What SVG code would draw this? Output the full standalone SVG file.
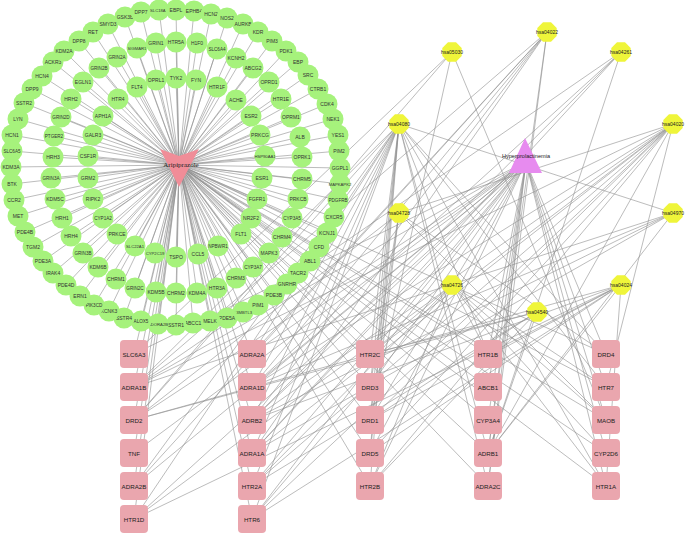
<svg xmlns="http://www.w3.org/2000/svg" xmlns:xlink="http://www.w3.org/1999/xlink" width="685" height="535" viewBox="0 0 685 535">
<style>
.e{stroke:#8f8f8f;stroke-width:0.6;fill:none}
.g circle{fill:#a6f27c}
.g text{font-family:"Liberation Sans",Arial,sans-serif;font-size:5px;fill:#333;text-anchor:middle;dominant-baseline:central}
.g text.s{font-size:4.2px}
.g text.m{font-size:4.6px}
.p rect{fill:#eaa6ae}
.p text{font-family:"Liberation Sans",Arial,sans-serif;font-size:6.2px;fill:#222;text-anchor:middle;dominant-baseline:central}
.h use{fill:#eff53a}
.h text{font-family:"Liberation Sans",Arial,sans-serif;font-size:5px;fill:#222;text-anchor:middle;dominant-baseline:central}
</style>
<defs>
<polygon id="oct" points="4,-9.7 9.7,-4 9.7,4 4,9.7 -4,9.7 -9.7,4 -9.7,-4 -4,-9.7"/>
</defs>
<rect width="685" height="535" fill="#fff"/>
<g id="connectors">
<path class="e" d="M179 165L125 17M179 165L141 12M179 165L159 10M179 165L176 10M179 165L194 11M179 165L211 14M179 165L227 18M179 165L243 24M179 165L258 32M179 165L272 41M179 165L286 51M179 165L298 62M179 165L308 75M179 165L318 89M179 165L327 104M179 165L333 119M179 165L338 135M179 165L339 151M179 165L340 168M179 165L340 184M179 165L338 200M179 165L334 217M179 165L327 233M179 165L319 247M179 165L310 261M179 165L298 273M179 165L287 284M179 165L274 295M179 165L258 305M179 165L243 312M179 165L227 318M179 165L210 321M179 165L193 323M179 165L176 325M179 165L158 324M179 165L141 321M179 165L124 318M179 165L109 311M179 165L94 305M179 165L80 296M179 165L66 285M179 165L53 273M179 165L43 261M179 165L33 247M179 165L25 232M179 165L18 216M179 165L14 200M179 165L12 184M179 165L11 167M179 165L12 151M179 165L12 135M179 165L18 119M179 165L24 103M179 165L32 89M179 165L42 76M179 165L53 62M179 165L64 51M179 165L79 41M179 165L93 32M179 165L108 24"/>
<path class="e" d="M179 165L137 48M179 165L156 43M179 165L176 42M179 165L197 43M179 165L217 49M179 165L236 58M179 165L253 68M179 165L269 82M179 165L281 99M179 165L291 117M179 165L300 137M179 165L302 157M179 165L302 179M179 165L298 199M179 165L292 218M179 165L282 237M179 165L269 253M179 165L253 267M179 165L236 278M179 165L217 288M179 165L197 293M179 165L176 293M179 165L156 292M179 165L135 288M179 165L116 279M179 165L98 267M179 165L83 253M179 165L71 236M179 165L62 218M179 165L55 199M179 165L51 178M179 165L53 157M179 165L54 136M179 165L61 117M179 165L71 99M179 165L83 82M179 165L99 68M179 165L117 57"/>
<path class="e" d="M179 165L137 87M179 165L156 80M179 165L176 78M179 165L196 80M179 165L217 87M179 165L236 100M179 165L251 116M179 165L260 135M179 165L265 156M179 165L262 178M179 165L257 199M179 165L251 218M179 165L241 234M179 165L218 246M179 165L198 254M179 165L176 257M179 165L155 253M179 165L135 246M179 165L117 234M179 165L103 218M179 165L93 199M179 165L88 178M179 165L88 156M179 165L93 135M179 165L103 116M179 165L118 99"/>
<path class="e" d="M179 165L134 354M179 165L134 387M179 165L134 420M179 165L134 453M179 165L134 486M179 165L134 519M179 165L252 354M179 165L252 387M179 165L252 420M179 165L252 453M179 165L252 486M179 165L252 519M179 165L370 354M179 165L370 387M179 165L370 420M179 165L370 453M179 165L370 486M179 165L488 354M179 165L488 387M179 165L488 420M179 165L488 453M179 165L488 486M179 165L606 354M179 165L606 387M179 165L606 420M179 165L606 453M179 165L606 486"/>
<path class="e" d="M526 162L134 354M526 162L134 387M526 162L134 420M526 162L134 453M526 162L134 486M526 162L134 519M526 162L252 354M526 162L252 387M526 162L252 420M526 162L252 453M526 162L252 486M526 162L252 519M526 162L370 354M526 162L370 387M526 162L370 420M526 162L370 453M526 162L370 486M526 162L488 354M526 162L488 387M526 162L488 420M526 162L488 453M526 162L488 486M526 162L606 354M526 162L606 387M526 162L606 420M526 162L606 453M526 162L606 486"/>
<path class="e" d="M452 52L134 354M452 52L134 420M452 52L370 420M452 52L606 420"/>
<path class="e" d="M547 32L252 453M547 32L134 387M547 32L252 387M547 32L252 354M547 32L134 486M547 32L488 486M547 32L488 453M547 32L252 420"/>
<path class="e" d="M621 52L252 453M621 52L134 387M621 52L252 387M621 52L488 453M621 52L252 420"/>
<path class="e" d="M399 124L134 387M399 124L134 420M399 124L134 486M399 124L134 519M399 124L252 354M399 124L252 387M399 124L252 420M399 124L252 453M399 124L252 486M399 124L252 519M399 124L370 354M399 124L370 387M399 124L370 420M399 124L370 453M399 124L370 486M399 124L488 354M399 124L488 453M399 124L488 486M399 124L606 354M399 124L606 387M399 124L606 486M399 124L673 213"/>
<path class="e" d="M673 124L252 453M673 124L134 387M673 124L252 387M673 124L488 453M673 124L252 420M673 124L252 486M673 124L370 486M673 124L370 354M673 124L370 420M673 124L370 453M673 124L252 519M673 124L606 387M673 124L399 213"/>
<path class="e" d="M399 213L370 420M399 213L134 420M399 213L370 387M399 213L606 354M399 213L370 453M399 213L606 420"/>
<path class="e" d="M673 213L252 453M673 213L134 387M673 213L252 387M673 213L488 453M673 213L252 420"/>
<path class="e" d="M452 285L606 486M452 285L488 354M452 285L134 519M452 285L252 486M452 285L370 486M452 285L370 354M452 285L252 519M452 285L606 387M452 285L606 420M452 285L606 453"/>
<path class="e" d="M621 285L488 453M621 285L252 420M621 285L370 420M621 285L134 420M621 285L370 453M621 285L606 486M621 285L488 354M621 285L134 519M621 285L252 519"/>
<path class="e" d="M537 312L370 420M537 312L134 420M537 312L252 486M537 312L370 486M537 312L370 354M537 312L488 453"/>
</g>
<g id="drug">
<polygon points="160,149 179,156 199,149 179,187" fill="#f08d98"/>
<text x="181" y="165" font-family="'Liberation Serif','Times New Roman',serif" font-size="7" fill="#222" text-anchor="middle" dominant-baseline="central">Aripiprazole</text>
</g>
<g id="disease">
<polygon points="525,138 542,173 509,173" fill="#e78bef"/>
<text x="526" y="156" font-family="'Liberation Sans',Arial,sans-serif" font-size="5.6" fill="#222" text-anchor="middle" dominant-baseline="central">Hyperprolactinemia</text>
</g>
<g id="pathways" class="h">
<g id="hsa05030"><use href="#oct" x="452" y="52"/><text x="452" y="52">hsa05030</text></g>
<g id="hsa04022"><use href="#oct" x="547" y="32"/><text x="547" y="32">hsa04022</text></g>
<g id="hsa04261"><use href="#oct" x="621" y="52"/><text x="621" y="52">hsa04261</text></g>
<g id="hsa04080"><use href="#oct" x="399" y="124"/><text x="399" y="124">hsa04080</text></g>
<g id="hsa04020"><use href="#oct" x="673" y="124"/><text x="673" y="124">hsa04020</text></g>
<g id="hsa04728"><use href="#oct" x="399" y="213"/><text x="399" y="213">hsa04728</text></g>
<g id="hsa04970"><use href="#oct" x="673" y="213"/><text x="673" y="213">hsa04970</text></g>
<g id="hsa04726"><use href="#oct" x="452" y="285"/><text x="452" y="285">hsa04726</text></g>
<g id="hsa04024"><use href="#oct" x="621" y="285"/><text x="621" y="285">hsa04024</text></g>
<g id="hsa04540"><use href="#oct" x="537" y="312"/><text x="537" y="312">hsa04540</text></g>
</g>
<g id="targets" class="g">
<g id="GSK3B"><circle cx="125" cy="17" r="10.5"/><text x="125" y="17">GSK3B</text></g>
<g id="DPP7"><circle cx="141" cy="12" r="10.5"/><text x="141" y="12">DPP7</text></g>
<g id="SLC18A2"><circle cx="159" cy="10" r="10.5"/><text class="s" x="159" y="10">SLC18A2</text></g>
<g id="EBPL"><circle cx="176" cy="10" r="10.5"/><text x="176" y="10">EBPL</text></g>
<g id="EPHB4"><circle cx="194" cy="11" r="10.5"/><text x="194" y="11">EPHB4</text></g>
<g id="HCN2"><circle cx="211" cy="14" r="10.5"/><text x="211" y="14">HCN2</text></g>
<g id="NOS2"><circle cx="227" cy="18" r="10.5"/><text x="227" y="18">NOS2</text></g>
<g id="AURKB"><circle cx="243" cy="24" r="10.5"/><text x="243" y="24">AURKB</text></g>
<g id="KDR"><circle cx="258" cy="32" r="10.5"/><text x="258" y="32">KDR</text></g>
<g id="PIM3"><circle cx="272" cy="41" r="10.5"/><text x="272" y="41">PIM3</text></g>
<g id="PDK1"><circle cx="286" cy="51" r="10.5"/><text x="286" y="51">PDK1</text></g>
<g id="EBP"><circle cx="298" cy="62" r="10.5"/><text x="298" y="62">EBP</text></g>
<g id="SRC"><circle cx="308" cy="75" r="10.5"/><text x="308" y="75">SRC</text></g>
<g id="CTRB1"><circle cx="318" cy="89" r="10.5"/><text x="318" y="89">CTRB1</text></g>
<g id="CDK4"><circle cx="327" cy="104" r="10.5"/><text x="327" y="104">CDK4</text></g>
<g id="NEK1"><circle cx="333" cy="119" r="10.5"/><text x="333" y="119">NEK1</text></g>
<g id="YES1"><circle cx="338" cy="135" r="10.5"/><text x="338" y="135">YES1</text></g>
<g id="PIM2"><circle cx="339" cy="151" r="10.5"/><text x="339" y="151">PIM2</text></g>
<g id="GGPL1"><circle cx="340" cy="168" r="10.5"/><text x="340" y="168">GGPL1</text></g>
<g id="MAPKAPK2"><circle cx="340" cy="184" r="10.5"/><text class="s" x="340" y="184">MAPKAPK2</text></g>
<g id="PDGFRB"><circle cx="338" cy="200" r="10.5"/><text class="m" x="338" y="200">PDGFRB</text></g>
<g id="CXCR5"><circle cx="334" cy="217" r="10.5"/><text x="334" y="217">CXCR5</text></g>
<g id="KCNJ1"><circle cx="327" cy="233" r="10.5"/><text x="327" y="233">KCNJ1</text></g>
<g id="CFD"><circle cx="319" cy="247" r="10.5"/><text x="319" y="247">CFD</text></g>
<g id="ABL1"><circle cx="310" cy="261" r="10.5"/><text x="310" y="261">ABL1</text></g>
<g id="TACR2"><circle cx="298" cy="273" r="10.5"/><text x="298" y="273">TACR2</text></g>
<g id="GNRHR"><circle cx="287" cy="284" r="10.5"/><text x="287" y="284">GNRHR</text></g>
<g id="PDE3B"><circle cx="274" cy="295" r="10.5"/><text x="274" y="295">PDE3B</text></g>
<g id="PIM1"><circle cx="258" cy="305" r="10.5"/><text x="258" y="305">PIM1</text></g>
<g id="L3MBTL3"><circle cx="243" cy="312" r="10.5"/><text class="s" x="243" y="312">L3MBTL3</text></g>
<g id="PDE5A"><circle cx="227" cy="318" r="10.5"/><text x="227" y="318">PDE5A</text></g>
<g id="MELK"><circle cx="210" cy="321" r="10.5"/><text x="210" y="321">MELK</text></g>
<g id="ABCC1"><circle cx="193" cy="323" r="10.5"/><text x="193" y="323">ABCC1</text></g>
<g id="SSTR1"><circle cx="176" cy="325" r="10.5"/><text x="176" y="325">SSTR1</text></g>
<g id="ADORA2B"><circle cx="158" cy="324" r="10.5"/><text class="s" x="158" y="324">ADORA2B</text></g>
<g id="ALOX5"><circle cx="141" cy="321" r="10.5"/><text class="m" x="141" y="321">ALOX5</text></g>
<g id="SSTR4"><circle cx="124" cy="318" r="10.5"/><text x="124" y="318">SSTR4</text></g>
<g id="KCNK3"><circle cx="109" cy="311" r="10.5"/><text x="109" y="311">KCNK3</text></g>
<g id="PIK3CD"><circle cx="94" cy="305" r="10.5"/><text class="m" x="94" y="305">PIK3CD</text></g>
<g id="ERN1"><circle cx="80" cy="296" r="10.5"/><text x="80" y="296">ERN1</text></g>
<g id="PDE4D"><circle cx="66" cy="285" r="10.5"/><text x="66" y="285">PDE4D</text></g>
<g id="IRAK4"><circle cx="53" cy="273" r="10.5"/><text x="53" y="273">IRAK4</text></g>
<g id="PDE3A"><circle cx="43" cy="261" r="10.5"/><text x="43" y="261">PDE3A</text></g>
<g id="TGM2"><circle cx="33" cy="247" r="10.5"/><text x="33" y="247">TGM2</text></g>
<g id="PDE4B"><circle cx="25" cy="232" r="10.5"/><text x="25" y="232">PDE4B</text></g>
<g id="MET"><circle cx="18" cy="216" r="10.5"/><text x="18" y="216">MET</text></g>
<g id="CCR2"><circle cx="14" cy="200" r="10.5"/><text x="14" y="200">CCR2</text></g>
<g id="BTK"><circle cx="12" cy="184" r="10.5"/><text x="12" y="184">BTK</text></g>
<g id="KDM3A"><circle cx="11" cy="167" r="10.5"/><text x="11" y="167">KDM3A</text></g>
<g id="SLC6A5"><circle cx="12" cy="151" r="10.5"/><text class="m" x="12" y="151">SLC6A5</text></g>
<g id="HCN1"><circle cx="12" cy="135" r="10.5"/><text x="12" y="135">HCN1</text></g>
<g id="LYN"><circle cx="18" cy="119" r="10.5"/><text x="18" y="119">LYN</text></g>
<g id="SSTR2"><circle cx="24" cy="103" r="10.5"/><text x="24" y="103">SSTR2</text></g>
<g id="DPP9"><circle cx="32" cy="89" r="10.5"/><text x="32" y="89">DPP9</text></g>
<g id="HCN4"><circle cx="42" cy="76" r="10.5"/><text x="42" y="76">HCN4</text></g>
<g id="ACKR3"><circle cx="53" cy="62" r="10.5"/><text x="53" y="62">ACKR3</text></g>
<g id="KDM2A"><circle cx="64" cy="51" r="10.5"/><text x="64" y="51">KDM2A</text></g>
<g id="DPP8"><circle cx="79" cy="41" r="10.5"/><text x="79" y="41">DPP8</text></g>
<g id="RET"><circle cx="93" cy="32" r="10.5"/><text x="93" y="32">RET</text></g>
<g id="SMYD3"><circle cx="108" cy="24" r="10.5"/><text x="108" y="24">SMYD3</text></g>
<g id="SIGMAR1"><circle cx="137" cy="48" r="10.5"/><text class="s" x="137" y="48">SIGMAR1</text></g>
<g id="GRIN1"><circle cx="156" cy="43" r="10.5"/><text x="156" y="43">GRIN1</text></g>
<g id="HTR5A"><circle cx="176" cy="42" r="10.5"/><text x="176" y="42">HTR5A</text></g>
<g id="H1F0"><circle cx="197" cy="43" r="10.5"/><text x="197" y="43">H1F0</text></g>
<g id="SLC6A4"><circle cx="217" cy="49" r="10.5"/><text class="m" x="217" y="49">SLC6A4</text></g>
<g id="KCNH2"><circle cx="236" cy="58" r="10.5"/><text x="236" y="58">KCNH2</text></g>
<g id="ABCG2"><circle cx="253" cy="68" r="10.5"/><text x="253" y="68">ABCG2</text></g>
<g id="OPRD1"><circle cx="269" cy="82" r="10.5"/><text x="269" y="82">OPRD1</text></g>
<g id="HTR1E"><circle cx="281" cy="99" r="10.5"/><text x="281" y="99">HTR1E</text></g>
<g id="OPRM1"><circle cx="291" cy="117" r="10.5"/><text x="291" y="117">OPRM1</text></g>
<g id="ALB"><circle cx="300" cy="137" r="10.5"/><text x="300" y="137">ALB</text></g>
<g id="OPRK1"><circle cx="302" cy="157" r="10.5"/><text x="302" y="157">OPRK1</text></g>
<g id="CHRM5"><circle cx="302" cy="179" r="10.5"/><text x="302" y="179">CHRM5</text></g>
<g id="PRKCB"><circle cx="298" cy="199" r="10.5"/><text x="298" y="199">PRKCB</text></g>
<g id="CYP3A5"><circle cx="292" cy="218" r="10.5"/><text class="m" x="292" y="218">CYP3A5</text></g>
<g id="CHRM4"><circle cx="282" cy="237" r="10.5"/><text x="282" y="237">CHRM4</text></g>
<g id="MAPK3"><circle cx="269" cy="253" r="10.5"/><text x="269" y="253">MAPK3</text></g>
<g id="CYP3A7"><circle cx="253" cy="267" r="10.5"/><text class="m" x="253" y="267">CYP3A7</text></g>
<g id="CHRM3"><circle cx="236" cy="278" r="10.5"/><text x="236" y="278">CHRM3</text></g>
<g id="HTR3A"><circle cx="217" cy="288" r="10.5"/><text x="217" y="288">HTR3A</text></g>
<g id="KDM4A"><circle cx="197" cy="293" r="10.5"/><text x="197" y="293">KDM4A</text></g>
<g id="CHRM2"><circle cx="176" cy="293" r="10.5"/><text x="176" y="293">CHRM2</text></g>
<g id="KDM5B"><circle cx="156" cy="292" r="10.5"/><text x="156" y="292">KDM5B</text></g>
<g id="GRIN2C"><circle cx="135" cy="288" r="10.5"/><text class="m" x="135" y="288">GRIN2C</text></g>
<g id="CHRM1"><circle cx="116" cy="279" r="10.5"/><text x="116" y="279">CHRM1</text></g>
<g id="KDM6B"><circle cx="98" cy="267" r="10.5"/><text x="98" y="267">KDM6B</text></g>
<g id="GRIN3B"><circle cx="83" cy="253" r="10.5"/><text class="m" x="83" y="253">GRIN3B</text></g>
<g id="HRH4"><circle cx="71" cy="236" r="10.5"/><text x="71" y="236">HRH4</text></g>
<g id="HRH1"><circle cx="62" cy="218" r="10.5"/><text x="62" y="218">HRH1</text></g>
<g id="KDM5C"><circle cx="55" cy="199" r="10.5"/><text x="55" y="199">KDM5C</text></g>
<g id="GRIN3A"><circle cx="51" cy="178" r="10.5"/><text class="m" x="51" y="178">GRIN3A</text></g>
<g id="HRH3"><circle cx="53" cy="157" r="10.5"/><text x="53" y="157">HRH3</text></g>
<g id="PTGER2"><circle cx="54" cy="136" r="10.5"/><text class="m" x="54" y="136">PTGER2</text></g>
<g id="GRIN2D"><circle cx="61" cy="117" r="10.5"/><text class="m" x="61" y="117">GRIN2D</text></g>
<g id="HRH2"><circle cx="71" cy="99" r="10.5"/><text x="71" y="99">HRH2</text></g>
<g id="EGLN1"><circle cx="83" cy="82" r="10.5"/><text x="83" y="82">EGLN1</text></g>
<g id="GRIN2B"><circle cx="99" cy="68" r="10.5"/><text class="m" x="99" y="68">GRIN2B</text></g>
<g id="GRIN2A"><circle cx="117" cy="57" r="10.5"/><text class="m" x="117" y="57">GRIN2A</text></g>
<g id="FLT4"><circle cx="137" cy="87" r="10.5"/><text x="137" y="87">FLT4</text></g>
<g id="OPRL1"><circle cx="156" cy="80" r="10.5"/><text x="156" y="80">OPRL1</text></g>
<g id="TYK2"><circle cx="176" cy="78" r="10.5"/><text x="176" y="78">TYK2</text></g>
<g id="FYN"><circle cx="196" cy="80" r="10.5"/><text x="196" y="80">FYN</text></g>
<g id="HTR1F"><circle cx="217" cy="87" r="10.5"/><text x="217" y="87">HTR1F</text></g>
<g id="ACHE"><circle cx="236" cy="100" r="10.5"/><text x="236" y="100">ACHE</text></g>
<g id="ESR2"><circle cx="251" cy="116" r="10.5"/><text x="251" y="116">ESR2</text></g>
<g id="PRKCG"><circle cx="260" cy="135" r="10.5"/><text x="260" y="135">PRKCG</text></g>
<g id="HSP90AA1"><circle cx="265" cy="156" r="10.5"/><text class="s" x="265" y="156">HSP90AA1</text></g>
<g id="ESR1"><circle cx="262" cy="178" r="10.5"/><text x="262" y="178">ESR1</text></g>
<g id="FGFR1"><circle cx="257" cy="199" r="10.5"/><text x="257" y="199">FGFR1</text></g>
<g id="NR2F2"><circle cx="251" cy="218" r="10.5"/><text x="251" y="218">NR2F2</text></g>
<g id="FLT1"><circle cx="241" cy="234" r="10.5"/><text x="241" y="234">FLT1</text></g>
<g id="NPBWR1"><circle cx="218" cy="246" r="10.5"/><text class="m" x="218" y="246">NPBWR1</text></g>
<g id="CCL5"><circle cx="198" cy="254" r="10.5"/><text x="198" y="254">CCL5</text></g>
<g id="TSPO"><circle cx="176" cy="257" r="10.5"/><text x="176" y="257">TSPO</text></g>
<g id="CYP2C19"><circle cx="155" cy="253" r="10.5"/><text class="s" x="155" y="253">CYP2C19</text></g>
<g id="SLC22A1"><circle cx="135" cy="246" r="10.5"/><text class="s" x="135" y="246">SLC22A1</text></g>
<g id="PRKCE"><circle cx="117" cy="234" r="10.5"/><text x="117" y="234">PRKCE</text></g>
<g id="CYP1A2"><circle cx="103" cy="218" r="10.5"/><text class="m" x="103" y="218">CYP1A2</text></g>
<g id="RIPK2"><circle cx="93" cy="199" r="10.5"/><text x="93" y="199">RIPK2</text></g>
<g id="GRM2"><circle cx="88" cy="178" r="10.5"/><text x="88" y="178">GRM2</text></g>
<g id="CSF1R"><circle cx="88" cy="156" r="10.5"/><text x="88" y="156">CSF1R</text></g>
<g id="GALR3"><circle cx="93" cy="135" r="10.5"/><text x="93" y="135">GALR3</text></g>
<g id="APH1A"><circle cx="103" cy="116" r="10.5"/><text x="103" y="116">APH1A</text></g>
<g id="HTR4"><circle cx="118" cy="99" r="10.5"/><text x="118" y="99">HTR4</text></g>
</g>
<g id="shared" class="p">
<g id="SLC6A3"><rect x="120" y="340" width="28" height="28" rx="4"/><text x="134" y="354">SLC6A3</text></g>
<g id="ADRA1B"><rect x="120" y="373" width="28" height="28" rx="4"/><text x="134" y="387">ADRA1B</text></g>
<g id="DRD2"><rect x="120" y="406" width="28" height="28" rx="4"/><text x="134" y="420">DRD2</text></g>
<g id="TNF"><rect x="120" y="439" width="28" height="28" rx="4"/><text x="134" y="453">TNF</text></g>
<g id="ADRA2B"><rect x="120" y="472" width="28" height="28" rx="4"/><text x="134" y="486">ADRA2B</text></g>
<g id="HTR1D"><rect x="120" y="505" width="28" height="28" rx="4"/><text x="134" y="519">HTR1D</text></g>
<g id="ADRA2A"><rect x="238" y="340" width="28" height="28" rx="4"/><text x="252" y="354">ADRA2A</text></g>
<g id="ADRA1D"><rect x="238" y="373" width="28" height="28" rx="4"/><text x="252" y="387">ADRA1D</text></g>
<g id="ADRB2"><rect x="238" y="406" width="28" height="28" rx="4"/><text x="252" y="420">ADRB2</text></g>
<g id="ADRA1A"><rect x="238" y="439" width="28" height="28" rx="4"/><text x="252" y="453">ADRA1A</text></g>
<g id="HTR2A"><rect x="238" y="472" width="28" height="28" rx="4"/><text x="252" y="486">HTR2A</text></g>
<g id="HTR6"><rect x="238" y="505" width="28" height="28" rx="4"/><text x="252" y="519">HTR6</text></g>
<g id="HTR2C"><rect x="356" y="340" width="28" height="28" rx="4"/><text x="370" y="354">HTR2C</text></g>
<g id="DRD3"><rect x="356" y="373" width="28" height="28" rx="4"/><text x="370" y="387">DRD3</text></g>
<g id="DRD1"><rect x="356" y="406" width="28" height="28" rx="4"/><text x="370" y="420">DRD1</text></g>
<g id="DRD5"><rect x="356" y="439" width="28" height="28" rx="4"/><text x="370" y="453">DRD5</text></g>
<g id="HTR2B"><rect x="356" y="472" width="28" height="28" rx="4"/><text x="370" y="486">HTR2B</text></g>
<g id="HTR1B"><rect x="474" y="340" width="28" height="28" rx="4"/><text x="488" y="354">HTR1B</text></g>
<g id="ABCB1"><rect x="474" y="373" width="28" height="28" rx="4"/><text x="488" y="387">ABCB1</text></g>
<g id="CYP3A4"><rect x="474" y="406" width="28" height="28" rx="4"/><text x="488" y="420">CYP3A4</text></g>
<g id="ADRB1"><rect x="474" y="439" width="28" height="28" rx="4"/><text x="488" y="453">ADRB1</text></g>
<g id="ADRA2C"><rect x="474" y="472" width="28" height="28" rx="4"/><text x="488" y="486">ADRA2C</text></g>
<g id="DRD4"><rect x="592" y="340" width="28" height="28" rx="4"/><text x="606" y="354">DRD4</text></g>
<g id="HTR7"><rect x="592" y="373" width="28" height="28" rx="4"/><text x="606" y="387">HTR7</text></g>
<g id="MAOB"><rect x="592" y="406" width="28" height="28" rx="4"/><text x="606" y="420">MAOB</text></g>
<g id="CYP2D6"><rect x="592" y="439" width="28" height="28" rx="4"/><text x="606" y="453">CYP2D6</text></g>
<g id="HTR1A"><rect x="592" y="472" width="28" height="28" rx="4"/><text x="606" y="486">HTR1A</text></g>
</g>
</svg>
